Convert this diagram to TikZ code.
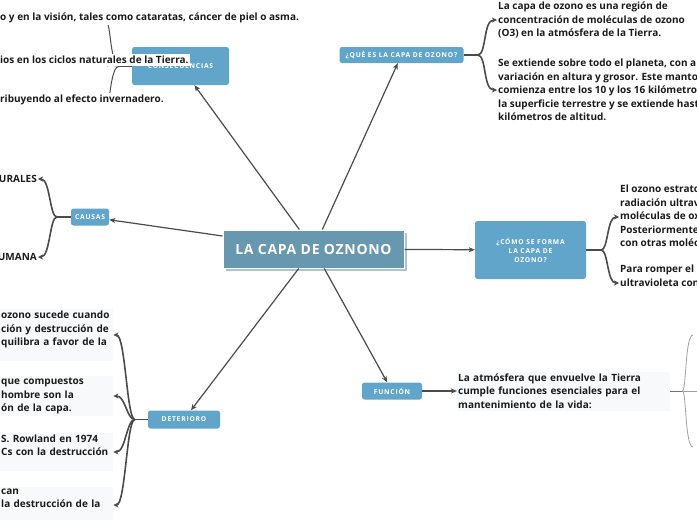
\documentclass[tikz,border=0pt]{standalone}
\usepackage{fontspec}
\setmainfont{Open Sans}
\newfontfamily\hubfont[LetterSpace=5]{Open Sans}
\newfontfamily\topicfont[LetterSpace=12]{Open Sans}
\usepackage{tikz}
\usetikzlibrary{arrows.meta,shadows,positioning}
\usepackage{xcolor}
\definecolor{mhub}{HTML}{6897B0}
\definecolor{mshade}{HTML}{A9C5D5}
\definecolor{mtopic}{HTML}{61A6CA}
\definecolor{mline}{HTML}{4B4B4B}
\definecolor{mthin}{HTML}{A0A0A0}
\definecolor{mtext}{HTML}{1B1B1B}
\definecolor{mpaper}{HTML}{F7F9FA}
\tikzstyle{hub}=[rectangle, fill=mhub, draw=white, line width=1, text=white, minimum width=181pt, minimum height=38pt, font=\hubfont\bfseries\fontsize{14}{16}\selectfont, drop shadow={shadow xshift=2.5pt, shadow yshift=-2.5pt, fill=mshade, opacity=1}]
\tikzstyle{topic}=[rectangle, rounded corners=2.5pt, fill=mtopic, text=white, inner sep=0pt, align=center, font=\topicfont\bfseries\fontsize{6.7}{9}\selectfont]
\tikzstyle{txt}=[inner xsep=1pt, inner ysep=2pt, text=mtext, align=left, font=\bfseries\fontsize{10}{13.6}\selectfont]
\tikzstyle{l1}=[draw=mline, line width=1.2, -{Stealth[length=6pt, width=5pt, inset=1.5pt]}]
\tikzstyle{l2}=[draw=mline, line width=1.6]
\tikzstyle{l3}=[draw=mline, line width=1]
\tikzstyle{tip}=[-{Stealth[length=5pt, width=5pt, inset=1.5pt]}]

\begin{document}
\begin{tikzpicture}[x=1pt, y=-1pt]
    \useasboundingbox (0,0) rectangle (697,520);
    \clip (0,0) rectangle (697,520);

    \node[hub] at (313.5,249) (capa) {LA CAPA DE OZNONO};
    \node[topic, minimum width=124pt, minimum height=16pt] at (401.5,55) (que) {¿QUÈ ES LA CAPA DE OZONO?};
    \node[topic, minimum width=97pt, minimum height=38pt] at (180.5,66) (cons) {CONSECUENCIAS};
    \node[topic, minimum width=38pt, minimum height=17pt] at (90,217) (causas) {CAUSAS};
    \node[topic, minimum width=111pt, minimum height=58pt] at (530.5,250) (como) {¿CÓMO SE FORMA\\LA CAPA DE\\OZONO?};
    \node[topic, minimum width=60pt, minimum height=17pt] at (392,391) (funcion) {FUNCIÓN};
    \node[topic, minimum width=72pt, minimum height=18pt] at (184,419.5) (det) {DETERIORO};

    \draw[l1] (capa) -- (cons);
    \draw[l1] (capa) -- (que);
    \draw[l1] (capa) -- (causas);
    \draw[l1] (capa) -- (como);
    \draw[l1] (capa) -- (funcion);
    \draw[l1] (capa) -- (det);

    % que es
    \node[txt, anchor=west] at (497,20) (q1) {La capa de ozono es una región de\\concentración de moléculas de ozono\\(O3) en la atmósfera de la Tierra.};
    \node[txt, anchor=west] at (497,90) (q2) {Se extiende sobre todo el planeta, con alguna\\variación en altura y grosor. Este manto\\comienza entre los 10 y los 16 kilómetros de\\la superficie terrestre y se extiende hasta los\\kilómetros de altitud.};
    \coordinate[right=14pt of que.east] (qf);
    \draw[l2] (que.east) -- (qf);
    \draw[l2, tip] (qf) .. controls +(9,0) and +(-14,0) .. (q1.west);
    \draw[l2, tip] (qf) .. controls +(9,0) and +(-14,0) .. (q2.west);

    % consecuencias
    \coordinate[left=12pt of cons.west] (cf);
    \coordinate (ca) at (103,22);
    \coordinate (cb) at (103,64);
    \coordinate (cc) at (103,104);
    \draw[l3] (cons.west) -- (cf);
    \draw[l3, tip] (cf) .. controls +(-10,0) and +(8,0) .. (ca);
    \draw[l3, tip] (cf) .. controls +(-10,0) and +(8,0) .. (cb);
    \draw[l3, tip] (cf) .. controls +(-10,0) and +(8,0) .. (cc);
    \node[txt, fill=white, anchor=west] at (-1,18) (cons1) {o y en la visión, tales como cataratas, cáncer de piel o asma.};
    \node[txt, fill=white, anchor=west] at (-1,60) (cons2) {ios en los ciclos naturales de la Tierra.};
    \node[txt, fill=white, anchor=west] at (-1,100) (cons3) {ribuyendo al efecto invernadero.};

    % causas
    \node[txt, anchor=east] at (38,179) (k1) {URALES};
    \node[txt, anchor=east] at (38,257) (k2) {UMANA};
    \coordinate[left=14pt of causas.west] (kf);
    \draw[l2] (causas.west) -- (kf);
    \draw[l2, tip] (kf) .. controls +(-7,0) and +(12,0) .. (k1.east);
    \draw[l2, tip] (kf) .. controls +(-7,0) and +(12,0) .. (k2.east);

    % como se forma
    \node[txt, anchor=west] at (619,217) (c1) {El ozono estratosférico se forma cuando la\\radiación ultravioleta del sol rompe las\\moléculas de oxígeno en dos átomos.\\Posteriormente, cada átomo se une\\con otras moléculas de oxígeno.};
    \node[txt, anchor=west] at (619,277) (c2) {Para romper el enlace se necesita\\ultravioleta con longitud de onda corta.};
    \coordinate[right=15pt of como.east] (mf);
    \draw[l2] (como.east) -- (mf);
    \draw[l2, tip] (mf) .. controls +(7,0) and +(-12,0) .. (c1.west);
    \draw[l2, tip] (mf) .. controls +(7,0) and +(-12,0) .. ([yshift=-6pt]c2.west);

    % funcion
    \node[txt, fill=mpaper, anchor=west, text width=211pt] at (457,391) (fun1) {La atmósfera que envuelve la Tierra\\cumple funciones esenciales para el\\mantenimiento de la vida:};
    \draw[l1] (funcion) -- (fun1);
    \coordinate[right=12pt of fun1.east] (bf);
    \coordinate (b1) at (693,335);
    \coordinate (b2) at (693,447);
    \coordinate (b3) at (697,391);
    \draw[line width=1, draw=black!55] (fun1.east) -- (bf);
    \draw[line width=0.8, draw=mthin] (bf) -- (b3);
    \draw[line width=0.8, draw=mthin] (bf) .. controls +(4,0) and +(-8,0) .. (b1);
    \draw[line width=0.8, draw=mthin] (bf) .. controls +(4,0) and +(-8,0) .. (b2);

    % deterioro
    \node[txt, fill=mpaper, anchor=west, text width=111pt] at (0,335) (d1) {ozono sucede cuando\\ción y destrucción de\\quilibra a favor de la\\ \mbox{}};
    \node[txt, fill=mpaper, anchor=west, text width=111pt] at (0,396) (d2) {que compuestos\\ hombre son la\\ón de la capa.};
    \node[txt, fill=mpaper, anchor=west, text width=111pt] at (0,452) (d3) {S. Rowland en 1974\\Cs con la destrucción\\ \mbox{}};
    \node[txt, fill=mpaper, anchor=west, text width=111pt] at (0,505) (d4) {can\\la destrucción de la\\ \mbox{}};
    \coordinate[left=13pt of det.west] (df);
    \draw[l2] (det.west) -- (df);
    \foreach \t in {d1,d2,d3,d4}
        \draw[l2, tip] (df) .. controls +(-8,0) and +(12,0) .. (\t.east);

\end{tikzpicture}
\end{document}
